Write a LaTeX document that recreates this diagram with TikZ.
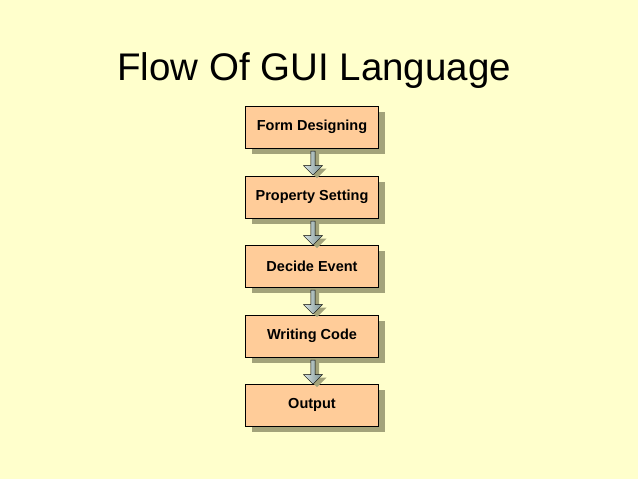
\documentclass[tikz,border=0pt]{standalone}
\usepackage{fontspec}
\setmainfont{Liberation Sans}
\usetikzlibrary{shapes.arrows,shadows}
\definecolor{bg}{HTML}{FFFFCC}
\definecolor{boxc}{HTML}{FFCC99}
\definecolor{shad}{HTML}{A3A37A}
\definecolor{arl}{HTML}{D8E4E4}
\definecolor{ard}{HTML}{7A9090}
\begin{document}
\begin{tikzpicture}[x=1pt,y=-1pt,
  box/.style={draw=black,line width=0.6pt,fill=boxc,minimum width=133pt,minimum height=42pt,font=\bfseries\fontsize{14.5}{16}\selectfont,
    drop shadow={shadow xshift=6pt,shadow yshift=-6pt,fill=shad,opacity=1}},
  arr/.style={single arrow,draw=black,line width=0.4pt,shape border rotate=270,minimum width=19pt,single arrow head extend=4pt,single arrow tip angle=90,minimum height=24pt,inner sep=1pt,
    left color=arl,right color=ard,
    drop shadow={shadow xshift=4pt,shadow yshift=-3pt,fill=shad,opacity=1}}]
\fill[bg] (0,0) rectangle (638,479);
\node[anchor=base west,font=\fontsize{38.5}{44}\selectfont,inner sep=0pt] (title) at (117,80) {Flow Of GUI Language};
\node[box] (b1) at (312,127) {Form Designing};
\node[box] (b2) at (312,197) {Property Setting};
\node[box] (b3) at (312,266) {Decide Event};
\node[box] (b4) at (312,336) {Writing Code};
\node[box] (b5) at (312,405) {Output};
\node[arr] (a1) at (313,162) {};
\node[arr] (a2) at (313,232) {};
\node[arr] (a3) at (313,301) {};
\node[arr] (a4) at (313,371) {};
\end{tikzpicture}
\end{document}
